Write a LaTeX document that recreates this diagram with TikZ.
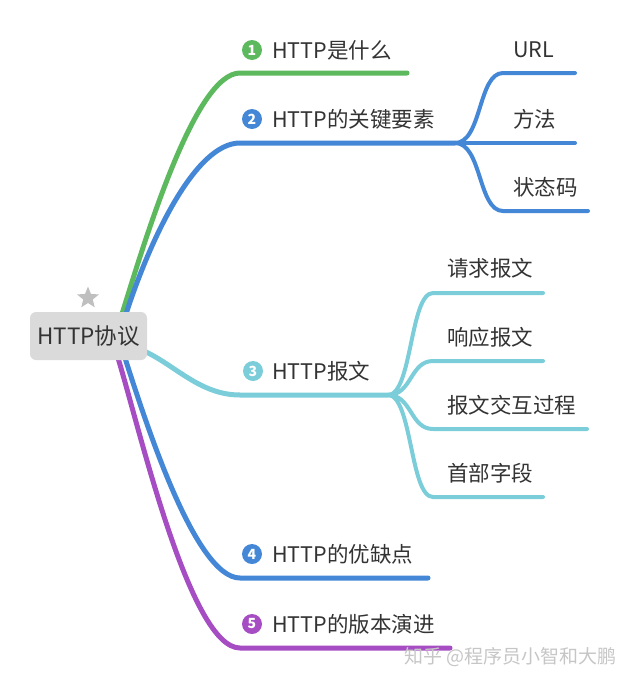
\documentclass[tikz,border=0pt]{standalone}
\usepackage{fontspec}
\setmainfont{Noto Sans CJK SC}
\usepackage{xcolor}
\usetikzlibrary{shapes.geometric,positioning}
\definecolor{mmgreen}{HTML}{5DB95E}
\definecolor{mmblue}{HTML}{4387D6}
\definecolor{mmcyan}{HTML}{7BCDD9}
\definecolor{mmpurple}{HTML}{A64DC4}
\definecolor{rootgray}{HTML}{DADADA}
\definecolor{txtgray}{HTML}{333333}

\begin{document}
\begin{tikzpicture}[x=1pt,y=-1pt,% pixel grid, y runs downwards
		every node/.style={
			text=txtgray,
			font=\fontsize{21.5}{26}\selectfont
		},
		rootbox/.style={rectangle,rounded corners=6pt,fill=rootgray,minimum width=117pt,minimum height=48pt,font=\fontsize{22.5}{27}\selectfont},
		branch/.style={line width=5pt,line cap=round},
		twig/.style={line width=4pt,line cap=round},
		badge/.style={circle,inner sep=0pt,minimum size=20pt,text=white,font=\fontsize{14}{14}\selectfont\bfseries},
		topic/.style={anchor=west,inner sep=1pt}
	]
	\useasboundingbox (0,0) rectangle (627,683);
	% branch points
	\coordinate (s1) at (122,314);
	\coordinate (k1) at (240,73);
	\coordinate (e1) at (407,73);
	\coordinate (s2) at (126,314);
	\coordinate (k2) at (240,143);
	\coordinate (e2) at (455,143);
	\coordinate (s3) at (144,351);
	\coordinate (k3) at (240,395);
	\coordinate (e3) at (388,395);
	\coordinate (s4) at (125,358);
	\coordinate (k4) at (240,578);
	\coordinate (e4) at (428,578);
	\coordinate (s5) at (118,358);
	\coordinate (k5) at (240,648);
	\coordinate (e5) at (450,648);
	% main branches
	\draw[branch,mmgreen] (s1) .. controls (145,240) and (195,73) .. (k1) -- (e1);
	\draw[branch,mmblue] (s2) .. controls (150,240) and (195,143) .. (k2) -- (e2);
	\draw[branch,mmcyan] (s3) .. controls (175,365) and (200,395) .. (k3) -- (e3);
	\draw[branch,mmpurple] (s5) .. controls (140,430) and (190,648) .. (k5) -- (e5);
	\draw[branch,mmblue] (s4) .. controls (145,420) and (195,578) .. (k4) -- (e4);
	% sub branches of 2
	\coordinate (a1) at (503,73);  \coordinate (b1) at (575,73);
	\coordinate (b2) at (575,143);
	\coordinate (a3) at (503,211); \coordinate (b3) at (588,211);
	\draw[twig,mmblue] (e2) .. controls (482,143) and (478,73) .. (a1) -- (b1);
	\draw[twig,mmblue] (e2) -- (b2);
	\draw[twig,mmblue] (e2) .. controls (482,143) and (478,211) .. (a3) -- (b3);
	% sub branches of 3
	\coordinate (c1) at (433,293); \coordinate (d1) at (543,293);
	\coordinate (c2) at (433,361); \coordinate (d2) at (543,361);
	\coordinate (c3) at (433,429); \coordinate (d3) at (587,429);
	\coordinate (c4) at (433,497); \coordinate (d4) at (543,497);
	\draw[twig,mmcyan] (e3) .. controls (412,395) and (410,293) .. (c1) -- (d1);
	\draw[twig,mmcyan] (e3) .. controls (412,395) and (410,361) .. (c2) -- (d2);
	\draw[twig,mmcyan] (e3) .. controls (412,395) and (410,429) .. (c3) -- (d3);
	\draw[twig,mmcyan] (e3) .. controls (412,395) and (410,497) .. (c4) -- (d4);
	% root
	\node[rootbox] (root) at (88.5,336) {HTTP协议};
	\node[star,star points=5,star point ratio=2.3,fill=gray!50,inner sep=0pt,minimum size=23pt] (fav) at (88,298) {};
	% topics
	\node[badge,fill=mmgreen] (n1) at (252,50) {1};
	\node[topic] (t1) at (271,50) {HTTP是什么};
	\node[badge,fill=mmblue] (n2) at (252,119) {2};
	\node[topic] (t2) at (271,119) {HTTP的关键要素};
	\node[badge,fill=mmcyan] (n3) at (253,371) {3};
	\node[topic] (t3) at (271,371) {HTTP报文};
	\node[badge,fill=mmblue] (n4) at (252,554) {4};
	\node[topic] (t4) at (271,554) {HTTP的优缺点};
	\node[badge,fill=mmpurple] (n5) at (252,624) {5};
	\node[topic] (t5) at (271,624) {HTTP的版本演进};
	% subtopics
	\node[topic] (u1) at (512,50) {URL};
	\node[topic] (u2) at (512,119) {方法};
	\node[topic] (u3) at (512,187) {状态码};
	\node[topic] (m1) at (446,268) {请求报文};
	\node[topic] (m2) at (446,337) {响应报文};
	\node[topic] (m3) at (446,405) {报文交互过程};
	\node[topic] (m4) at (446,473) {首部字段};
	% watermark
	\node[topic,text=gray!45,font=\fontsize{19}{22}\selectfont] (mark) at (403,657) {知乎 @程序员小智和大鹏};
\end{tikzpicture}
\end{document}
